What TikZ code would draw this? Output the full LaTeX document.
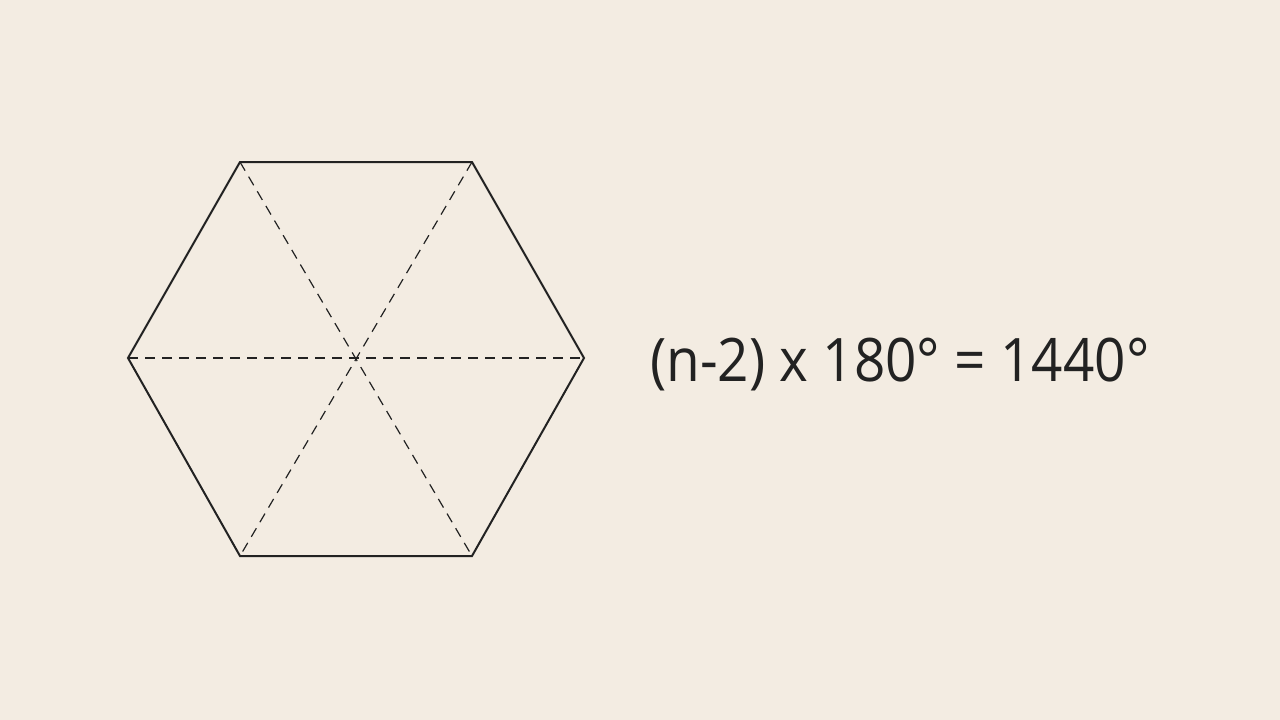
\documentclass[tikz,border=0pt]{standalone}
\usepackage{fontspec}
\setmainfont{Open Sans}[FakeStretch=0.915]
\definecolor{bg}{HTML}{F3ECE2}
\definecolor{ink}{HTML}{222222}
\begin{document}
\begin{tikzpicture}[x=1pt,y=-1pt,
  hexside/.style={draw=ink,line width=2pt,line join=miter},
  diag/.style={draw=ink,line width=1.2pt,dash pattern=on 10pt off 7pt},
  formula/.style={text=ink,font=\fontsize{60}{72}\selectfont,inner sep=0pt,anchor=base west}]
\fill[bg] (0,0) rectangle (1280,720);
\useasboundingbox (0,0) rectangle (1280,720);
\coordinate (A) at (240,162);
\coordinate (B) at (472,162);
\coordinate (C) at (584,358);
\coordinate (D) at (472,556);
\coordinate (E) at (240,556);
\coordinate (F) at (128,358);
\draw[diag] (A) -- (D);
\draw[diag] (B) -- (E);
\draw[diag] (F) -- (C);
\draw[hexside] (A) -- (B) -- (C) -- (D) -- (E) -- (F) -- cycle;
\node[formula] (t) at (650,381) {(n-2) x 180° = 1440°};
\end{tikzpicture}
\end{document}
